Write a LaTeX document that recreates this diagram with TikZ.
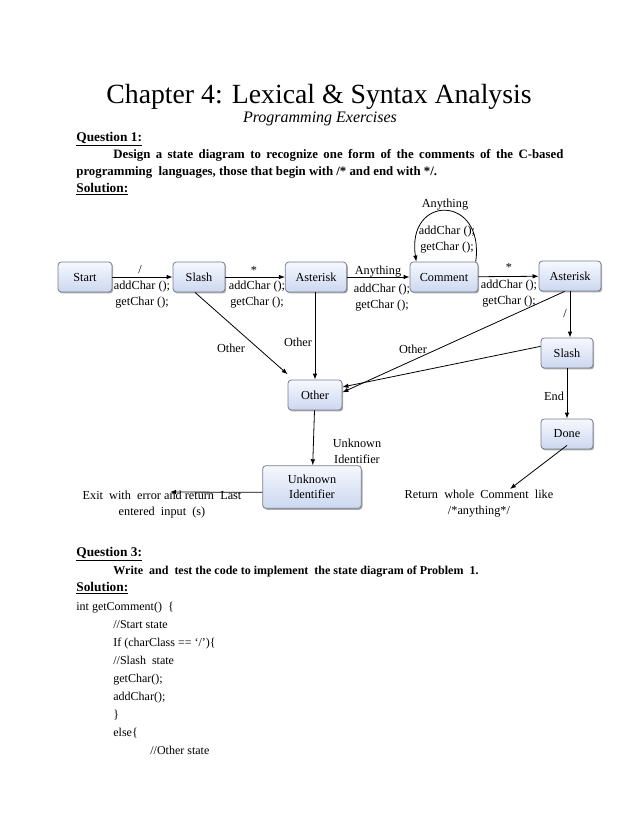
\documentclass[tikz,border=0pt]{standalone}
\usepackage{fontspec}
\setmainfont{Liberation Serif}
\usetikzlibrary{arrows.meta,shadows}

\definecolor{boxtop}{RGB}{246,248,254}
\definecolor{boxbot}{RGB}{204,215,240}
\definecolor{boxline}{RGB}{120,125,140}

\tikzset{every picture/.style={line width=0.6pt}}
\tikzset{
	state/.style={draw=boxline, rounded corners=2.5pt, top color=boxtop, bottom color=boxbot,
		drop shadow={shadow xshift=0.9pt, shadow yshift=-1.1pt, fill=black!55, opacity=0.6},
		font=\fontsize{9.2}{11.5}\selectfont, inner sep=0pt, minimum height=22.5pt, align=center},
	lbl/.style={font=\fontsize{9.2}{12}\selectfont, inner sep=0pt, align=center},
	trans/.style={-{Latex[length=4.5pt,width=3.4pt]}},
	heading/.style={font=\fontsize{10}{12}\selectfont\bfseries, inner sep=0pt, anchor=base west},
	bodybold/.style={font=\fontsize{9}{11}\selectfont\bfseries, inner sep=0pt, anchor=base west},
	code/.style={font=\fontsize{9}{11}\selectfont, inner sep=0pt, anchor=base west},
}

\begin{document}
\begin{tikzpicture}[x=0.75pt,y=0.75pt,yscale=-1,xscale=1]
		\useasboundingbox (0,0) rectangle (638,826);

		% Text Node
		\node (title) [anchor=base, inner sep=0pt, font=\fontsize{20.8}{24}\selectfont] at (319,103) {Chapter 4: Lexical \& Syntax Analysis};
		% Text Node
		\node (subtitle) [anchor=base, inner sep=0pt, font=\fontsize{12}{14}\selectfont\itshape] at (320,122) {Programming Exercises};
		% Text Node
		\node (qone) [heading] at (76,141) {\underline{Question 1:}};
		\node (qonea) [bodybold, font=\fontsize{9.6}{11}\selectfont\bfseries] at (113,158) {\makebox[337.5pt][s]{Design a state diagram to recognize one form of the comments of the C-based}};
		\node (qoneb) [bodybold, font=\fontsize{9.6}{11}\selectfont\bfseries] at (76,175) {programming\ \ languages, those that begin with /* and end with */.};
		\node (solone) [heading] at (76,192) {\underline{Solution:}};

		%Shape: States
		\node (start) [state, minimum width=40.5pt] at (85,277) {Start};
		\node (slash) [state, minimum width=39pt] at (199,277) {Slash};
		\node (aster) [state, minimum width=46pt] at (316,277) {Asterisk};
		\node (comment) [state, minimum width=51pt] at (444,277) {Comment};
		\node (astertwo) [state, minimum width=46.5pt] at (570,276) {Asterisk};
		\node (slashtwo) [state, minimum width=39pt] at (567,353) {Slash};
		\node (done) [state, minimum width=39pt] at (567,434) {Done};
		\node (other) [state, minimum width=40.5pt] at (315,395) {Other};
		\node (unknown) [state, minimum width=74pt, minimum height=32pt] at (312,487) {Unknown\\Identifier};

		%Straight Lines
		\draw [trans] (start) -- (slash);
		\draw [trans] (slash) -- (aster);
		\draw [trans] (aster) -- (comment);
		\draw [trans] (comment) -- (astertwo);
		\draw [trans] (astertwo.south) -- (astertwo.south |- slashtwo.north);
		\draw [trans] (slashtwo) -- (done);
		\draw [trans] ([xshift=-3pt]slash.south) -- ([yshift=-4pt]other.north west);
		\draw [trans] (aster.south -| other.north) -- (other.north);
		\draw [trans] ([xshift=-4pt]astertwo.south) -- ([yshift=-2pt]other.east);
		\draw [trans] ([yshift=-5pt]slashtwo.west) -- ([yshift=-6pt]other.east);
		\draw [trans] (other) -- (unknown);
		%Curve Lines
		\draw [trans] ([xshift=-2pt]comment.north east) .. controls (485,194) and (406,194) .. ([xshift=5pt]comment.north west);

		% Text Node
		\node (lslash) [lbl] at (140,270) {/};
		\node (actone) [lbl] at (142,295) {addChar ();\\getChar ();};
		\node (lstar) [lbl] at (254,270) {*};
		\node (acttwo) [lbl] at (257,295) {addChar ();\\getChar ();};
		\node (lany) [lbl] at (378,272) {Anything};
		\node (actthree) [lbl] at (382,298) {addChar ();\\getChar ();};
		\node (lstartwo) [lbl] at (509,267) {*};
		\node (actfour) [lbl] at (509,294) {addChar ();\\getChar ();};
		\node (lloop) [lbl] at (445,205) {Anything};
		\node (actloop) [lbl] at (447,240) {addChar ();\\getChar ();};
		\node (lslashtwo) [lbl] at (565,314) {/};
		\node (lotherone) [lbl] at (231,348) {Other};
		\node (lothertwo) [lbl] at (298,342) {Other};
		\node (lotherthree) [lbl] at (413,349) {Other};
		\node (lend) [lbl] at (554,396) {End};
		\node (lunknown) [lbl] at (357,451) {Unknown\\Identifier};
		\node (exit) [lbl] at (162,505) {Exit\ \ with\ \ error and return\ \ Last\\entered\ \ input\ \ (s)};
		\node (return) [lbl] at (479,504) {Return\ \ whole\ \ Comment\ \ like\\/*anything*/};

		\coordinate (exittip) at (170,492);
		\coordinate (returntip) at (510,489);
		\draw [trans] ([yshift=4pt]unknown.west) -- (exittip);
		\draw [trans] ([yshift=-3pt]done.south) -- (returntip);

		% Text Node
		\node (qthree) [heading] at (76,556) {\underline{Question 3:}};
		\node (qthreea) [bodybold] at (113,574) {Write\ \ and\ \ test the code to implement\ \ the state diagram of Problem\ \ 1.};
		\node (solthree) [heading] at (76,591) {\underline{Solution:}};
		\node (cone) [code] at (76,610) {int getComment()\ \ \{};
		\node (ctwo) [code] at (113,628) {//Start state};
		\node (cthree) [code] at (113,646) {If (charClass == ‘/’)\{};
		\node (cfour) [code] at (113,664) {//Slash\ \ state};
		\node (cfive) [code] at (113,682) {getChar();};
		\node (csix) [code] at (113,700) {addChar();};
		\node (cseven) [code] at (113,718) {\}};
		\node (ceight) [code] at (113,736) {else\{};
		\node (cnine) [code] at (150,754) {//Other state};

	\end{tikzpicture}
\end{document}
